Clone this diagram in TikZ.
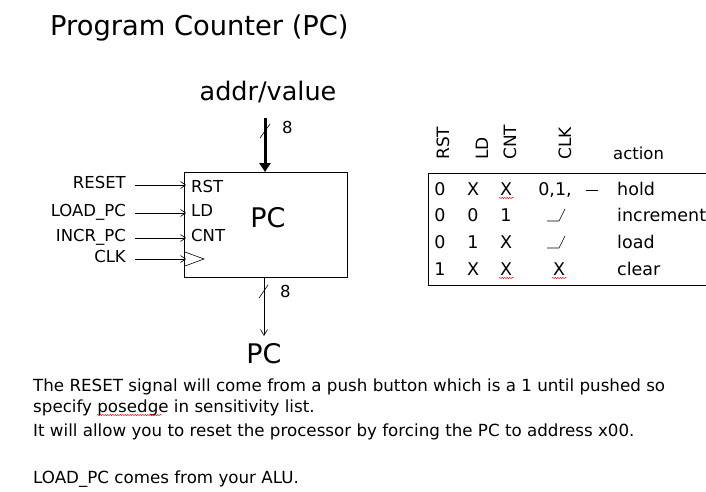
\documentclass[tikz,border=0pt]{standalone}
\usepackage{fontspec}
\setmainfont{DejaVu Sans}
\usetikzlibrary{arrows.meta,decorations.pathmorphing}
\begin{document}
\begin{tikzpicture}[x=1pt,y=-1pt,
  lbl/.style={font=\fontsize{16.5}{18}\selectfont,inner sep=0pt},
  big/.style={font=\fontsize{25.5}{28}\selectfont,inner sep=0pt},
  txt/.style={font=\fontsize{16.7}{18}\selectfont,inner sep=0pt,anchor=base west},
  tb/.style={font=\fontsize{17.5}{18}\selectfont,inner sep=0pt,anchor=base},
  inarr/.style={-{Straight Barb[length=5pt,width=7pt]},line width=0.6pt},
  squig/.style={red,line width=0.4pt,decorate,decoration={snake,amplitude=0.7pt,segment length=2.5pt}}]
\useasboundingbox[clip] (0,0) rectangle (706,492);
\node[anchor=base west,inner sep=0pt,font=\fontsize{27.3}{30}\selectfont] (title) at (50,36) {Program Counter (PC)};
\node[big,anchor=base] (addr) at (268,101) {addr/value};
\node[draw,line width=1.1pt,minimum width=163pt,minimum height=105pt,anchor=north west,inner sep=0pt] (pc) at (184,172) {};
\node[font=\fontsize{27}{28}\selectfont,inner sep=0pt,anchor=base] (pclbl) at (268,227) {PC};
\coordinate (topin) at (265,118);
\draw[line width=3pt,-{Triangle[length=9pt,width=11pt]}] (topin) -- (265,172);
\draw[line width=0.6pt] (260,138) -- (270,124);
\node[lbl,anchor=base west] (n8a) at (282,133) {8};
% inputs
\foreach \nm/\y in {RESET/182,LOAD\_PC/210,INCR\_PC/235,CLK/256}{
  \node[lbl,anchor=base east] (in\y) at (126,\y+6) {\nm};
  \coordinate (p\y) at (186,\y+3);
  \draw[inarr] (135,\y+3) -- (p\y);
}
\node[lbl,anchor=base west] (rst) at (191,192) {RST};
\node[lbl,anchor=base west] (ld) at (191,216) {LD};
\node[lbl,anchor=base west] (cnt) at (191,241) {CNT};
\draw[line width=0.6pt] (185,252) -- (204,259) -- (185,266);
% output
\coordinate (pcout) at (264,336);
\draw[-{Straight Barb[length=6pt,width=7pt]},line width=0.6pt] (264,277) -- (pcout);
\draw[line width=0.6pt] (259,298) -- (268,285);
\node[lbl,anchor=base west] (n8b) at (280,297) {8};
\node[font=\fontsize{27}{28}\selectfont,inner sep=0pt,anchor=base] (pcname) at (264,363) {PC};
% table
\draw[line width=0.9pt] (428,173) rectangle (720,285);
\foreach \t/\x in {RST/443,LD/482,CNT/510,CLK/565}
  \node[font=\fontsize{17}{18}\selectfont,inner sep=0pt,rotate=90,anchor=west] (h\t) at (\x,160) {\t};
\node[font=\fontsize{16.5}{18}\selectfont,inner sep=0pt,anchor=base west] (act) at (613,159) {action};
\foreach \y/\a/\b/\c/\act in {195/0/X/X/hold,221/0/0/1/increment,248/0/1/X/load,275/1/X/X/clear}{
  \node[tb] at (440,\y) {\a};
  \node[tb] at (473,\y) {\b};
  \node[tb] at (506,\y) {\c};
  \node[tb,anchor=base west] at (617,\y) {\act};
}
\node[tb] at (555,195) {0,1,};
\draw[line width=0.6pt] (586,190) -- (598,190);
\foreach \y in {221,248}{\draw[line width=0.6pt] (547,\y) -- (559,\y) -- (565,\y-12);}
\node[tb] at (559,275) {X};
\draw[squig] (499,198) -- (514,198);
\draw[squig] (499,278) -- (514,278);
\draw[squig] (552,278) -- (567,278);
% paragraphs
\node[txt] (l1) at (33,391) {The RESET signal will come from a push button which is a 1 until pushed so};
\node[txt] (l2) at (33,412) {specify posedge in sensitivity list.};
\draw[squig] (97,415) -- (162,415);
\node[txt] (l3) at (33,436) {It will allow you to reset the processor by forcing the PC to address x00.};
\node[txt] (l4) at (33,483) {LOAD\_PC comes from your ALU.};
\end{tikzpicture}
\end{document}
